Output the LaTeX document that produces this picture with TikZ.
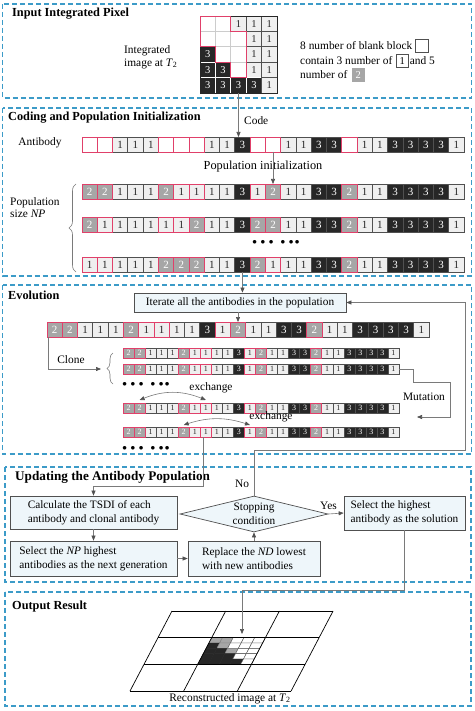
\documentclass[tikz,border=0pt]{standalone}
\usepackage{fontspec}
\setmainfont{Liberation Serif}
\usetikzlibrary{arrows.meta,shapes.geometric,decorations.pathreplacing,calc,positioning}
\definecolor{dblue}{HTML}{3C9BC8}
\definecolor{pk}{HTML}{E0406A}
\definecolor{cone}{HTML}{EFEFEF}
\definecolor{ctwo}{HTML}{A6A6A6}
\definecolor{cthree}{HTML}{272727}
\definecolor{cdark}{HTML}{505050}
\definecolor{bfill}{HTML}{EEF6FA}
\definecolor{lgray}{HTML}{7A7A7A}
\newcommand{\cellrow}[6]{%
  \foreach \v [count=\i] in {#6}{%
    \node (#1-\i) at ({#2+(\i-1)*#4},#3) [cell\v, minimum width=#4pt, minimum height=#5pt];
  }%
  \foreach \v [count=\i] in {#6}{%
    \path[ol\v] (#1-\i.north west) rectangle (#1-\i.south east);
  }%
}
\begin{document}
\begin{tikzpicture}[x=1pt,y=-1pt,
  sec/.style={draw=dblue, dash pattern=on 5pt off 3pt, line width=1.1pt},
  ttl/.style={font=\fontsize{12.3}{14}\selectfont\bfseries, anchor=west, inner sep=0pt},
  txt/.style={font=\fontsize{11.4}{13}\selectfont, inner sep=0pt},
  conn/.style={draw=lgray, line width=0.6pt},
  arr/.style={conn, -{Triangle[length=5pt,width=4pt,color=cdark]}},
  cellbase/.style={rectangle, inner sep=0pt, outer sep=0pt, anchor=north west},
  cella/.style={cellbase, fill=white, draw=pk, node contents={}},
  cellb/.style={cellbase, fill=cone, draw=pk, text=cthree, node contents={1}},
  cellc/.style={cellbase, fill=ctwo, draw=pk, text=white, node contents={2}},
  cell1/.style={cellbase, fill=cone, draw=cdark, text=cthree, node contents={1}},
  cell3/.style={cellbase, fill=cthree, draw=cdark, text=white, node contents={3}},
  ola/.style={draw=pk}, olb/.style={draw=pk}, olc/.style={draw=pk},
  ol1/.style={}, ol3/.style={},
  ge/.style={cellbase, fill=white, draw=gray!40, minimum size=15.4pt, node contents={}},
  g1/.style={cellbase, fill=cone, draw=cdark, minimum size=15.4pt, text=cthree, node contents={1}},
  g3/.style={cellbase, fill=cthree, draw=white, minimum size=15.4pt, text=white, node contents={3}},
  box/.style={draw=cdark, fill=bfill, line width=0.7pt, align=left, inner sep=0pt,
     font=\fontsize{11.3}{14}\selectfont},
  lbox/.style={rectangle, inner sep=0pt, minimum size=12.5pt, line width=0.7pt, font=\fontsize{10.5}{11}\selectfont},
  oG/.style={fill=ctwo, draw=gray, line width=0.4pt},
  oK/.style={fill=cthree, draw=cthree, line width=0.4pt},
  oW/.style={fill=white, draw=cdark, line width=0.4pt}
]
\useasboundingbox (0,0) rectangle (474,711);

% ---------- section frames ----------
\draw[sec] (2.5,4) rectangle (471.5,98);
\draw[sec] (2.5,108) rectangle (471.5,276);
\draw[sec] (2.5,285) rectangle (471.5,454);
\draw[sec] (5,467) rectangle (471,582);
\draw[sec] (5,592) rectangle (471,706);

% ---------- Section 1 ----------
\node[ttl] (t1) at (12,14) {Input Integrated Pixel};
\node[txt, anchor=west, align=left] (intimg) at (124,57) {Integrated\\image at \textit{T}\textsubscript{2}};
\begin{scope}[line width=0.7pt, font=\fontsize{10.5}{11}\selectfont]
\foreach \r/\lst in {0/{e,e,1,1,1},1/{e,e,e,1,1},2/{3,e,e,1,1},3/{3,3,e,1,1},4/{3,3,3,3,1}}{
  \foreach \v [count=\c] in \lst {
    \node (g-\r-\c) at ({200+(\c-1)*15.4},{16+\r*15.4}) [g\v];
  }
}
\draw[cthree, line width=0.9pt] (g-0-1.north west) rectangle (g-4-5.south east);
\draw[pk, line width=0.9pt] (200,16) -- (230.8,16) -- (230.8,31.4) -- (246.2,31.4) -- (246.2,77.6)
  -- (230.8,77.6) -- (230.8,62.2) -- (215.4,62.2) -- (215.4,46.8) -- (200,46.8) -- cycle;
\end{scope}

\node[txt, anchor=west] (leg1) at (300,46) {8 number of blank block};
\node[lbox, draw=cdark, fill=white, right=3pt of leg1] (lb0) {};
\node[txt, anchor=west] (leg2) at (300,61) {contain 3 number of};
\node[lbox, draw=cdark, fill=white, right=3pt of leg2] (lb1) {1};
\node[txt, anchor=west, right=1pt of lb1] (leg2b) {and 5};
\node[txt, anchor=west] (leg3) at (300,75) {number of};
\node[lbox, draw=gray!70, fill=ctwo, text=white, right=4pt of leg3] (lb2) {2};

% ---------- Section 2 ----------
\node[ttl] (t2) at (8,118) {Coding and Population Initialization};
\node[txt] (ablab) at (40,143) {Antibody};
\begin{scope}[line width=0.7pt, font=\fontsize{11}{11}\selectfont]
\cellrow{ab}{82}{137}{15.28}{15}{a,a,1,1,1,a,a,a,1,1,3,a,a,1,1,3,3,a,1,1,3,3,3,3,1}
\cellrow{pa}{82}{184}{15.28}{15}{c,c,1,1,1,c,b,b,1,1,3,b,c,1,1,3,3,c,1,1,3,3,3,3,1}
\cellrow{pb}{82}{217}{15.28}{15}{c,b,1,1,1,b,b,c,1,1,3,c,c,1,1,3,3,c,1,1,3,3,3,3,1}
\cellrow{pc}{82}{257}{15.28}{15}{b,b,1,1,1,c,c,c,1,1,3,c,b,1,1,3,3,c,1,1,3,3,3,3,1}
\end{scope}
\draw[arr] (g-4-3.south) -- (g-4-3.south |- ab-11.north);
\node[txt, anchor=west] (codelab) at (244,121) {Code};
\node[txt, font=\fontsize{12.3}{14}\selectfont] (poplab) at (263,167) {Population initialization};
\draw[arr] (ab-13.south) -- (pa-13.north);
\node[txt, align=left, anchor=west, font=\fontsize{11.4}{11.5}\selectfont] (npl) at (10,207.5) {Population\\size \textit{NP}};
\draw[lgray, line width=0.6pt, decorate, decoration={brace, amplitude=7pt}] (76,272) -- (76,184);
\node[txt, font=\fontsize{9}{9}\selectfont] (dots1) at (276,242) {$\bullet\,\bullet\,\bullet\;\;\bullet\,\bullet\,\bullet$};

% ---------- Section 3 ----------
\node[ttl] (t3) at (8,295) {Evolution};
\node[box, minimum width=212pt, minimum height=19pt, align=center] (it) at (240,302.5) {Iterate all the antibodies in the population};
\draw[arr] (pc-11.south) -- (pc-11.south |- it.north);
\begin{scope}[line width=0.7pt, font=\fontsize{11}{11}\selectfont]
\cellrow{e}{47}{322}{15.28}{15}{c,c,1,1,1,c,b,b,1,1,3,b,c,1,1,3,3,c,1,1,3,3,3,3,1}
\end{scope}
\draw[arr] (e-13.north |- it.south) -- (e-13.north);
\begin{scope}[line width=0.5pt, font=\fontsize{8}{8}\selectfont]
\cellrow{sa}{123}{348}{11.04}{10}{c,c,1,1,1,c,b,b,1,1,3,b,c,1,1,3,3,c,1,1,3,3,3,3,1}
\cellrow{sb}{123}{364}{11.04}{10}{c,c,1,1,1,c,b,b,1,1,3,b,c,1,1,3,3,c,1,1,3,3,3,3,1}
\cellrow{sc}{123}{403}{11.04}{10}{c,c,1,1,1,c,b,b,1,1,3,b,c,1,1,3,3,c,1,1,3,3,3,3,1}
\cellrow{sd}{123}{427}{11.04}{10}{c,c,1,1,1,c,b,b,1,1,3,b,c,1,1,3,3,c,1,1,3,3,3,3,1}
\end{scope}
% clone
\coordinate (cl0) at ($(e-1.south west)+(1.5,0)$);
\coordinate (cltip) at (101,369);
\draw[arr] (cl0) |- (cltip);
\node[txt] (clonelab) at (71,360) {Clone};
\draw[lgray, line width=0.6pt, decorate, decoration={brace, amplitude=6pt}] (113,384) -- (113,353);
\node[txt, font=\fontsize{9}{9}\selectfont] (dots2) at (146,384) {$\bullet\,\bullet\,\bullet\;\;\bullet\,\bullet\,\bullet$};
\node[txt, font=\fontsize{9}{9}\selectfont] (dots3) at (146,448) {$\bullet\,\bullet\,\bullet\;\;\bullet\,\bullet\,\bullet$};
% exchange
\draw[conn, {Triangle[length=5pt,width=4pt,color=cdark]}-{Triangle[length=5pt,width=4pt,color=cdark]}]
  ($(sc-2.north)+(0,-3)$) to[bend left=22] ($(sc-8.north)+(0,-3)$);
\node[txt] (ex1) at (211,388) {exchange};
\draw[conn, {Triangle[length=5pt,width=4pt,color=cdark]}-{Triangle[length=5pt,width=4pt,color=cdark]}]
  ($(sd-6.north)+(0,-2)$) to[bend left=18] ($(sd-12.north)+(0,-2)$);
\node[txt] (ex2) at (271,417) {exchange};
% mutation
\coordinate (mA) at (413,369);
\coordinate (mB) at (413,382);
\coordinate (mC) at (450,382);
\coordinate (mD) at (450,417);
\coordinate (mE) at (417,417);
\draw[arr] (sb-25.east) -- (mA) -- (mB) -- (mC) -- (mD) -- (mE);
\node[txt] (mutlab) at (424,397) {Mutation};

% ---------- Section 4 ----------
\node[ttl, font=\fontsize{13.2}{15}\selectfont\bfseries] (t4) at (15,477) {Updating the Antibody Population};
\node[box, minimum width=167pt, minimum height=33pt] (calc) at (93.5,512.5) {Calculate the TSDI of each\\antibody and clonal antibody};
\node[box, minimum width=167pt, minimum height=35pt] (sel) at (93.5,558.5) {Select the \textit{NP} highest\\antibodies as the next generation};
\node[box, minimum width=132pt, minimum height=35pt] (rep) at (254,558.5) {Replace the \textit{ND} lowest\\with new antibodies};
\node[box, diamond, minimum width=148pt, minimum height=36pt, align=center, aspect=4] (dia) at (254,514) {Stopping\\condition};
\node[box, minimum width=121pt, minimum height=34pt] (best) at (404.5,513) {Select the highest\\antibody as the solution};
\coordinate (u0) at ($(sd-8.south)+(-2.5,0)$);
\coordinate (u1) at (93.5,486);
\draw[arr] (u0) |- (u1) -- (calc.north);
\draw[arr] (calc.south) -- (sel.north);
\draw[arr] (sel.east) -- (rep.west);
\draw[arr] (rep.north) -- (dia.south);
\draw[arr] (dia.east) -- (best.west);
\node[txt] (yeslab) at (328.5,506) {Yes};
\node[txt] (nolab) at (242,484) {No};
\coordinate (n2) at (465,450);
\draw[arr] (dia.north) |- (n2) |- (it.east);

% ---------- Section 5 ----------
\node[ttl] (t5) at (12,607) {Output Result};
\foreach \b/\lst in {0/{G,G,W,W,W},1/{K,G,W,W,W},2/{K,K,G,W,W},3/{K,K,K,W,W},4/{K,K,K,K,W}}{
  \foreach \k [count=\a from 0] in \lst {
    \path[o\k] ({172+53.7*(1+\a/5)-14*(1+\b/5)},{611+26.67*(1+\b/5)})
      -- ++(10.74,0) -- ++(-2.8,5.334) -- ++(-10.74,0) -- cycle;
  }
}
\foreach \v in {0,...,3}{
  \draw[line width=0.7pt] ({172-14*\v},{611+26.67*\v}) -- ++(161.1,0);
}
\foreach \u in {0,...,3}{
  \draw[line width=0.7pt] ({172+53.7*\u},611) -- ++(-42,80);
}
\coordinate (ob) at (242,590);
\coordinate (otip) at (242,634);
\draw[arr] (best.south) |- (ob) -- (otip);
\node[txt] (reclab) at (230,698.5) {Reconstructed image at \textit{T}\textsubscript{2}};
\end{tikzpicture}
\end{document}
